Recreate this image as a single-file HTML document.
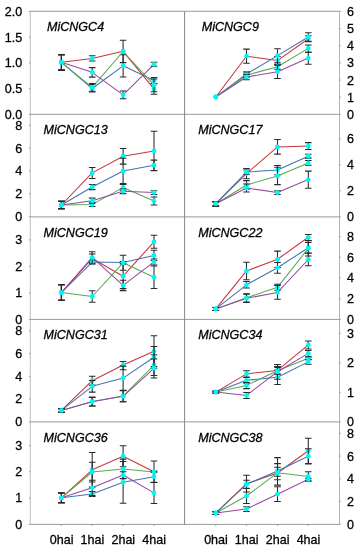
<!DOCTYPE html>
<html lang="en"><head><meta charset="utf-8"><title>MiCNGC expression</title>
<style>html,body{margin:0;padding:0;background:#fff}svg{display:block}text{font-family:"Liberation Sans",sans-serif;font-size:12.55px;fill:#000;stroke:#000;stroke-width:0.28px}.t{font-style:italic}</style></head><body>
<svg width="359" height="550" viewBox="0 0 359 550">
<rect width="359" height="550" fill="#fff"/>
<g stroke="#9a9a9a" stroke-width="1" fill="none">
<line x1="29.8" y1="11.3" x2="340.0" y2="11.3"/>
<line x1="29.8" y1="114.3" x2="340.0" y2="114.3"/>
<line x1="29.8" y1="216.9" x2="340.0" y2="216.9"/>
<line x1="29.8" y1="319.4" x2="340.0" y2="319.4"/>
<line x1="29.8" y1="421.9" x2="340.0" y2="421.9"/>
<line x1="29.8" y1="524.4" x2="340.0" y2="524.4"/>
<line x1="30.3" y1="11.3" x2="30.3" y2="524.4" stroke="#bdbdbd"/>
<line x1="339.5" y1="11.3" x2="339.5" y2="524.4" stroke="#b4b4b4"/>
<line x1="184.6" y1="11.3" x2="184.6" y2="524.9" stroke="#868686"/>
<line x1="28.900000000000002" y1="11.4" x2="30.3" y2="11.4"/>
<line x1="28.900000000000002" y1="37.2" x2="30.3" y2="37.2"/>
<line x1="28.900000000000002" y1="62.95" x2="30.3" y2="62.95"/>
<line x1="28.900000000000002" y1="88.7" x2="30.3" y2="88.7"/>
<line x1="28.900000000000002" y1="114.4" x2="30.3" y2="114.4"/>
<line x1="339.5" y1="11.4" x2="340.8" y2="11.4"/>
<line x1="339.5" y1="28.6" x2="340.8" y2="28.6"/>
<line x1="339.5" y1="45.75" x2="340.8" y2="45.75"/>
<line x1="339.5" y1="62.9" x2="340.8" y2="62.9"/>
<line x1="339.5" y1="80.1" x2="340.8" y2="80.1"/>
<line x1="339.5" y1="97.2" x2="340.8" y2="97.2"/>
<line x1="339.5" y1="114.4" x2="340.8" y2="114.4"/>
<line x1="28.900000000000002" y1="125.4" x2="30.3" y2="125.4"/>
<line x1="28.900000000000002" y1="148.2" x2="30.3" y2="148.2"/>
<line x1="28.900000000000002" y1="170.9" x2="30.3" y2="170.9"/>
<line x1="28.900000000000002" y1="193.7" x2="30.3" y2="193.7"/>
<line x1="28.900000000000002" y1="216.5" x2="30.3" y2="216.5"/>
<line x1="339.5" y1="138.7" x2="340.8" y2="138.7"/>
<line x1="339.5" y1="164.7" x2="340.8" y2="164.7"/>
<line x1="339.5" y1="190.7" x2="340.8" y2="190.7"/>
<line x1="339.5" y1="216.7" x2="340.8" y2="216.7"/>
<line x1="28.900000000000002" y1="239.9" x2="30.3" y2="239.9"/>
<line x1="28.900000000000002" y1="266.4" x2="30.3" y2="266.4"/>
<line x1="28.900000000000002" y1="292.9" x2="30.3" y2="292.9"/>
<line x1="28.900000000000002" y1="319.4" x2="30.3" y2="319.4"/>
<line x1="339.5" y1="236.6" x2="340.8" y2="236.6"/>
<line x1="339.5" y1="257.3" x2="340.8" y2="257.3"/>
<line x1="339.5" y1="278.0" x2="340.8" y2="278.0"/>
<line x1="339.5" y1="298.7" x2="340.8" y2="298.7"/>
<line x1="339.5" y1="319.4" x2="340.8" y2="319.4"/>
<line x1="28.900000000000002" y1="330.8" x2="30.3" y2="330.8"/>
<line x1="28.900000000000002" y1="353.55" x2="30.3" y2="353.55"/>
<line x1="28.900000000000002" y1="376.3" x2="30.3" y2="376.3"/>
<line x1="28.900000000000002" y1="399.05" x2="30.3" y2="399.05"/>
<line x1="28.900000000000002" y1="421.8" x2="30.3" y2="421.8"/>
<line x1="339.5" y1="333.4" x2="340.8" y2="333.4"/>
<line x1="339.5" y1="362.9" x2="340.8" y2="362.9"/>
<line x1="339.5" y1="392.4" x2="340.8" y2="392.4"/>
<line x1="339.5" y1="421.9" x2="340.8" y2="421.9"/>
<line x1="28.900000000000002" y1="445.6" x2="30.3" y2="445.6"/>
<line x1="28.900000000000002" y1="471.8" x2="30.3" y2="471.8"/>
<line x1="28.900000000000002" y1="498.0" x2="30.3" y2="498.0"/>
<line x1="28.900000000000002" y1="524.2" x2="30.3" y2="524.2"/>
<line x1="339.5" y1="433.4" x2="340.8" y2="433.4"/>
<line x1="339.5" y1="456.1" x2="340.8" y2="456.1"/>
<line x1="339.5" y1="478.8" x2="340.8" y2="478.8"/>
<line x1="339.5" y1="501.5" x2="340.8" y2="501.5"/>
<line x1="339.5" y1="524.2" x2="340.8" y2="524.2"/>
<line x1="61.4" y1="524.4" x2="61.4" y2="525.9"/>
<line x1="92.2" y1="524.4" x2="92.2" y2="525.9"/>
<line x1="123.1" y1="524.4" x2="123.1" y2="525.9"/>
<line x1="154.0" y1="524.4" x2="154.0" y2="525.9"/>
<line x1="215.8" y1="524.4" x2="215.8" y2="525.9"/>
<line x1="246.5" y1="524.4" x2="246.5" y2="525.9"/>
<line x1="277.5" y1="524.4" x2="277.5" y2="525.9"/>
<line x1="308.3" y1="524.4" x2="308.3" y2="525.9"/>
</g>
<text x="22.3" y="15.8" text-anchor="end">2.0</text>
<text x="22.3" y="41.6" text-anchor="end">1.5</text>
<text x="22.3" y="67.4" text-anchor="end">1.0</text>
<text x="22.3" y="93.1" text-anchor="end">0.5</text>
<text x="22.3" y="118.8" text-anchor="end">0.0</text>
<text class="t" x="75.6" y="30.9" text-anchor="middle">MiCNGC4</text>
<text x="346.9" y="15.8">6</text>
<text x="346.9" y="33.0">5</text>
<text x="346.9" y="50.1">4</text>
<text x="346.9" y="67.3">3</text>
<text x="346.9" y="84.5">2</text>
<text x="346.9" y="101.6">1</text>
<text x="346.9" y="118.8">0</text>
<text class="t" x="230.3" y="30.9" text-anchor="middle">MiCNGC9</text>
<text x="22.3" y="129.8" text-anchor="end">8</text>
<text x="22.3" y="152.6" text-anchor="end">6</text>
<text x="22.3" y="175.3" text-anchor="end">4</text>
<text x="22.3" y="198.1" text-anchor="end">2</text>
<text x="22.3" y="220.9" text-anchor="end">0</text>
<text class="t" x="75.6" y="133.9" text-anchor="middle">MiCNGC13</text>
<text x="346.9" y="143.1">6</text>
<text x="346.9" y="169.1">4</text>
<text x="346.9" y="195.1">2</text>
<text x="346.9" y="221.1">0</text>
<text class="t" x="230.3" y="133.9" text-anchor="middle">MiCNGC17</text>
<text x="22.3" y="244.3" text-anchor="end">3</text>
<text x="22.3" y="270.8" text-anchor="end">2</text>
<text x="22.3" y="297.3" text-anchor="end">1</text>
<text x="22.3" y="323.8" text-anchor="end">0</text>
<text class="t" x="75.6" y="236.5" text-anchor="middle">MiCNGC19</text>
<text x="346.9" y="241.0">8</text>
<text x="346.9" y="261.7">6</text>
<text x="346.9" y="282.4">4</text>
<text x="346.9" y="303.1">2</text>
<text x="346.9" y="323.8">0</text>
<text class="t" x="230.3" y="236.5" text-anchor="middle">MiCNGC22</text>
<text x="22.3" y="335.2" text-anchor="end">8</text>
<text x="22.3" y="357.9" text-anchor="end">6</text>
<text x="22.3" y="380.7" text-anchor="end">4</text>
<text x="22.3" y="403.4" text-anchor="end">2</text>
<text x="22.3" y="426.2" text-anchor="end">0</text>
<text class="t" x="75.6" y="339.0" text-anchor="middle">MiCNGC31</text>
<text x="346.9" y="337.8">3</text>
<text x="346.9" y="367.3">2</text>
<text x="346.9" y="396.8">1</text>
<text x="346.9" y="426.3">0</text>
<text class="t" x="230.3" y="339.0" text-anchor="middle">MiCNGC34</text>
<text x="22.3" y="450.0" text-anchor="end">3</text>
<text x="22.3" y="476.2" text-anchor="end">2</text>
<text x="22.3" y="502.4" text-anchor="end">1</text>
<text x="22.3" y="528.6" text-anchor="end">0</text>
<text class="t" x="75.6" y="441.5" text-anchor="middle">MiCNGC36</text>
<text x="346.9" y="437.8">8</text>
<text x="346.9" y="460.5">6</text>
<text x="346.9" y="483.2">4</text>
<text x="346.9" y="505.9">2</text>
<text x="346.9" y="528.6">0</text>
<text class="t" x="230.3" y="441.5" text-anchor="middle">MiCNGC38</text>
<text x="61.6" y="543.7" text-anchor="middle">0hai</text>
<text x="92.4" y="543.7" text-anchor="middle">1hai</text>
<text x="123.3" y="543.7" text-anchor="middle">2hai</text>
<text x="154.2" y="543.7" text-anchor="middle">4hai</text>
<text x="216.0" y="543.7" text-anchor="middle">0hai</text>
<text x="246.7" y="543.7" text-anchor="middle">1hai</text>
<text x="277.7" y="543.7" text-anchor="middle">2hai</text>
<text x="308.5" y="543.7" text-anchor="middle">4hai</text>
<g>
<polyline points="61.4,62.3 92.2,58.4 123.1,51.3 154.0,88.9" fill="none" stroke="#c8343e" stroke-width="1.05" stroke-linejoin="round"/>
<path d="M61.4 54.7V70.1M58.1 54.7h6.6M58.1 70.1h6.6M92.2 55.8V60.9M88.9 55.8h6.6M88.9 60.9h6.6M123.1 40.2V62.6M119.8 40.2h6.6M119.8 62.6h6.6M154.0 83.6V94.2M150.7 83.6h6.6M150.7 94.2h6.6" fill="none" stroke="#2a2a2a" stroke-width="1.05"/>
<circle cx="61.4" cy="62.3" r="2.4" fill="#00f6f6"/>
<circle cx="92.2" cy="58.4" r="2.4" fill="#00f6f6"/>
<circle cx="123.1" cy="51.3" r="2.4" fill="#00f6f6"/>
<circle cx="154.0" cy="88.9" r="2.4" fill="#00f6f6"/>
<polyline points="61.4,62.3 92.2,88.5 123.1,65.8 154.0,80.5" fill="none" stroke="#3f76ad" stroke-width="1.05" stroke-linejoin="round"/>
<path d="M61.4 54.7V70.1M58.1 54.7h6.6M58.1 70.1h6.6M92.2 84.5V92.0M88.9 84.5h6.6M88.9 92.0h6.6M123.1 54.8V76.9M119.8 54.8h6.6M119.8 76.9h6.6M154.0 77.6V83.5M150.7 77.6h6.6M150.7 83.5h6.6" fill="none" stroke="#2a2a2a" stroke-width="1.05"/>
<circle cx="61.4" cy="62.3" r="2.4" fill="#00f6f6"/>
<circle cx="92.2" cy="88.5" r="2.4" fill="#00f6f6"/>
<circle cx="123.1" cy="65.8" r="2.4" fill="#00f6f6"/>
<circle cx="154.0" cy="80.5" r="2.4" fill="#00f6f6"/>
<polyline points="61.4,62.3 92.2,87.3 123.1,51.5 154.0,84.9" fill="none" stroke="#52ab52" stroke-width="1.05" stroke-linejoin="round"/>
<path d="M61.4 54.7V70.1M58.1 54.7h6.6M58.1 70.1h6.6M92.2 83.4V91.2M88.9 83.4h6.6M88.9 91.2h6.6M154.0 79.0V91.8M150.7 79.0h6.6M150.7 91.8h6.6" fill="none" stroke="#2a2a2a" stroke-width="1.05"/>
<circle cx="61.4" cy="62.3" r="2.4" fill="#00f6f6"/>
<circle cx="92.2" cy="87.3" r="2.4" fill="#00f6f6"/>
<circle cx="123.1" cy="51.5" r="2.4" fill="#00f6f6"/>
<circle cx="154.0" cy="84.9" r="2.4" fill="#00f6f6"/>
<polyline points="61.4,62.3 92.2,72.3 123.1,94.9 154.0,64.3" fill="none" stroke="#9848a2" stroke-width="1.05" stroke-linejoin="round"/>
<path d="M61.4 54.7V70.1M58.1 54.7h6.6M58.1 70.1h6.6M92.2 67.6V77.1M88.9 67.6h6.6M88.9 77.1h6.6M123.1 90.9V98.8M119.8 90.9h6.6M119.8 98.8h6.6M154.0 62.3V66.3M150.7 62.3h6.6M150.7 66.3h6.6" fill="none" stroke="#2a2a2a" stroke-width="1.05"/>
<circle cx="61.4" cy="62.3" r="2.4" fill="#00f6f6"/>
<circle cx="92.2" cy="72.3" r="2.4" fill="#00f6f6"/>
<circle cx="123.1" cy="94.9" r="2.4" fill="#00f6f6"/>
<circle cx="154.0" cy="64.3" r="2.4" fill="#00f6f6"/>
</g>
<g>
<polyline points="215.8,97.0 246.5,56.2 277.5,60.6 308.3,38.8" fill="none" stroke="#c8343e" stroke-width="1.05" stroke-linejoin="round"/>
<path d="M246.5 49.1V63.2M243.2 49.1h6.6M243.2 63.2h6.6M277.5 56.5V64.6M274.2 56.5h6.6M274.2 64.6h6.6M308.3 35.8V41.8M305.0 35.8h6.6M305.0 41.8h6.6" fill="none" stroke="#2a2a2a" stroke-width="1.05"/>
<circle cx="215.8" cy="97.0" r="2.4" fill="#00f6f6"/>
<circle cx="246.5" cy="56.2" r="2.4" fill="#00f6f6"/>
<circle cx="277.5" cy="60.6" r="2.4" fill="#00f6f6"/>
<circle cx="308.3" cy="38.8" r="2.4" fill="#00f6f6"/>
<polyline points="215.8,97.0 246.5,74.0 277.5,55.6 308.3,37.0" fill="none" stroke="#3f76ad" stroke-width="1.05" stroke-linejoin="round"/>
<path d="M246.5 71.7V76.3M243.2 71.7h6.6M243.2 76.3h6.6M277.5 48.7V62.8M274.2 48.7h6.6M274.2 62.8h6.6M308.3 32.8V41.2M305.0 32.8h6.6M305.0 41.2h6.6" fill="none" stroke="#2a2a2a" stroke-width="1.05"/>
<circle cx="215.8" cy="97.0" r="2.4" fill="#00f6f6"/>
<circle cx="246.5" cy="74.0" r="2.4" fill="#00f6f6"/>
<circle cx="277.5" cy="55.6" r="2.4" fill="#00f6f6"/>
<circle cx="308.3" cy="37.0" r="2.4" fill="#00f6f6"/>
<polyline points="215.8,97.0 246.5,75.2 277.5,66.7 308.3,48.4" fill="none" stroke="#52ab52" stroke-width="1.05" stroke-linejoin="round"/>
<path d="M246.5 73.0V77.5M243.2 73.0h6.6M243.2 77.5h6.6M277.5 64.2V69.2M274.2 64.2h6.6M274.2 69.2h6.6M308.3 44.9V52.2M305.0 44.9h6.6M305.0 52.2h6.6" fill="none" stroke="#2a2a2a" stroke-width="1.05"/>
<circle cx="215.8" cy="97.0" r="2.4" fill="#00f6f6"/>
<circle cx="246.5" cy="75.2" r="2.4" fill="#00f6f6"/>
<circle cx="277.5" cy="66.7" r="2.4" fill="#00f6f6"/>
<circle cx="308.3" cy="48.4" r="2.4" fill="#00f6f6"/>
<polyline points="215.8,97.0 246.5,77.0 277.5,71.8 308.3,58.1" fill="none" stroke="#9848a2" stroke-width="1.05" stroke-linejoin="round"/>
<path d="M246.5 74.5V79.7M243.2 74.5h6.6M243.2 79.7h6.6M277.5 65.3V78.4M274.2 65.3h6.6M274.2 78.4h6.6M308.3 52.2V64.2M305.0 52.2h6.6M305.0 64.2h6.6" fill="none" stroke="#2a2a2a" stroke-width="1.05"/>
<circle cx="215.8" cy="97.0" r="2.4" fill="#00f6f6"/>
<circle cx="246.5" cy="77.0" r="2.4" fill="#00f6f6"/>
<circle cx="277.5" cy="71.8" r="2.4" fill="#00f6f6"/>
<circle cx="308.3" cy="58.1" r="2.4" fill="#00f6f6"/>
</g>
<g>
<polyline points="61.4,205.0 92.2,172.9 123.1,156.2 154.0,150.9" fill="none" stroke="#c8343e" stroke-width="1.05" stroke-linejoin="round"/>
<path d="M61.4 201.3V208.7M58.1 201.3h6.6M58.1 208.7h6.6M92.2 167.5V178.4M88.9 167.5h6.6M88.9 178.4h6.6M123.1 148.4V164.1M119.8 148.4h6.6M119.8 164.1h6.6M154.0 131.3V170.6M150.7 131.3h6.6M150.7 170.6h6.6" fill="none" stroke="#2a2a2a" stroke-width="1.05"/>
<circle cx="61.4" cy="205.0" r="2.4" fill="#00f6f6"/>
<circle cx="92.2" cy="172.9" r="2.4" fill="#00f6f6"/>
<circle cx="123.1" cy="156.2" r="2.4" fill="#00f6f6"/>
<circle cx="154.0" cy="150.9" r="2.4" fill="#00f6f6"/>
<polyline points="61.4,205.0 92.2,187.0 123.1,171.0 154.0,165.2" fill="none" stroke="#3f76ad" stroke-width="1.05" stroke-linejoin="round"/>
<path d="M61.4 201.3V208.7M58.1 201.3h6.6M58.1 208.7h6.6M92.2 184.5V189.6M88.9 184.5h6.6M88.9 189.6h6.6M123.1 158.3V183.6M119.8 158.3h6.6M119.8 183.6h6.6M154.0 160.1V170.5M150.7 160.1h6.6M150.7 170.5h6.6" fill="none" stroke="#2a2a2a" stroke-width="1.05"/>
<circle cx="61.4" cy="205.0" r="2.4" fill="#00f6f6"/>
<circle cx="92.2" cy="187.0" r="2.4" fill="#00f6f6"/>
<circle cx="123.1" cy="171.0" r="2.4" fill="#00f6f6"/>
<circle cx="154.0" cy="165.2" r="2.4" fill="#00f6f6"/>
<polyline points="61.4,205.0 92.2,204.4 123.1,187.6 154.0,200.9" fill="none" stroke="#52ab52" stroke-width="1.05" stroke-linejoin="round"/>
<path d="M61.4 201.3V208.7M58.1 201.3h6.6M58.1 208.7h6.6M92.2 202.3V206.5M88.9 202.3h6.6M88.9 206.5h6.6M123.1 184.4V190.7M119.8 184.4h6.6M119.8 190.7h6.6M154.0 197.0V205.0M150.7 197.0h6.6M150.7 205.0h6.6" fill="none" stroke="#2a2a2a" stroke-width="1.05"/>
<circle cx="61.4" cy="205.0" r="2.4" fill="#00f6f6"/>
<circle cx="92.2" cy="204.4" r="2.4" fill="#00f6f6"/>
<circle cx="123.1" cy="187.6" r="2.4" fill="#00f6f6"/>
<circle cx="154.0" cy="200.9" r="2.4" fill="#00f6f6"/>
<polyline points="61.4,205.0 92.2,200.7 123.1,191.3 154.0,192.6" fill="none" stroke="#9848a2" stroke-width="1.05" stroke-linejoin="round"/>
<path d="M61.4 201.3V208.7M58.1 201.3h6.6M58.1 208.7h6.6M92.2 198.1V203.3M88.9 198.1h6.6M88.9 203.3h6.6M123.1 189.0V193.6M119.8 189.0h6.6M119.8 193.6h6.6M154.0 190.7V194.5M150.7 190.7h6.6M150.7 194.5h6.6" fill="none" stroke="#2a2a2a" stroke-width="1.05"/>
<circle cx="61.4" cy="205.0" r="2.4" fill="#00f6f6"/>
<circle cx="92.2" cy="200.7" r="2.4" fill="#00f6f6"/>
<circle cx="123.1" cy="191.3" r="2.4" fill="#00f6f6"/>
<circle cx="154.0" cy="192.6" r="2.4" fill="#00f6f6"/>
</g>
<g>
<polyline points="215.8,203.7 246.5,173.6 277.5,146.9 308.3,146.0" fill="none" stroke="#c8343e" stroke-width="1.05" stroke-linejoin="round"/>
<path d="M215.8 201.6V205.9M212.5 201.6h6.6M212.5 205.9h6.6M246.5 168.5V178.7M243.2 168.5h6.6M243.2 178.7h6.6M277.5 139.5V154.1M274.2 139.5h6.6M274.2 154.1h6.6M308.3 142.6V149.4M305.0 142.6h6.6M305.0 149.4h6.6" fill="none" stroke="#2a2a2a" stroke-width="1.05"/>
<circle cx="215.8" cy="203.7" r="2.4" fill="#00f6f6"/>
<circle cx="246.5" cy="173.6" r="2.4" fill="#00f6f6"/>
<circle cx="277.5" cy="146.9" r="2.4" fill="#00f6f6"/>
<circle cx="308.3" cy="146.0" r="2.4" fill="#00f6f6"/>
<polyline points="215.8,203.7 246.5,172.0 277.5,170.1 308.3,156.2" fill="none" stroke="#3f76ad" stroke-width="1.05" stroke-linejoin="round"/>
<path d="M215.8 201.6V205.9M212.5 201.6h6.6M212.5 205.9h6.6M246.5 170.0V174.3M243.2 170.0h6.6M243.2 174.3h6.6M277.5 165.5V174.7M274.2 165.5h6.6M274.2 174.7h6.6M308.3 154.3V158.1M305.0 154.3h6.6M305.0 158.1h6.6" fill="none" stroke="#2a2a2a" stroke-width="1.05"/>
<circle cx="215.8" cy="203.7" r="2.4" fill="#00f6f6"/>
<circle cx="246.5" cy="172.0" r="2.4" fill="#00f6f6"/>
<circle cx="277.5" cy="170.1" r="2.4" fill="#00f6f6"/>
<circle cx="308.3" cy="156.2" r="2.4" fill="#00f6f6"/>
<polyline points="215.8,203.7 246.5,185.0 277.5,175.9 308.3,162.9" fill="none" stroke="#52ab52" stroke-width="1.05" stroke-linejoin="round"/>
<path d="M215.8 201.6V205.9M212.5 201.6h6.6M212.5 205.9h6.6M246.5 180.6V189.3M243.2 180.6h6.6M243.2 189.3h6.6M277.5 167.3V184.6M274.2 167.3h6.6M274.2 184.6h6.6M308.3 160.5V165.2M305.0 160.5h6.6M305.0 165.2h6.6" fill="none" stroke="#2a2a2a" stroke-width="1.05"/>
<circle cx="215.8" cy="203.7" r="2.4" fill="#00f6f6"/>
<circle cx="246.5" cy="185.0" r="2.4" fill="#00f6f6"/>
<circle cx="277.5" cy="175.9" r="2.4" fill="#00f6f6"/>
<circle cx="308.3" cy="162.9" r="2.4" fill="#00f6f6"/>
<polyline points="215.8,203.7 246.5,188.0 277.5,192.6 308.3,179.6" fill="none" stroke="#9848a2" stroke-width="1.05" stroke-linejoin="round"/>
<path d="M215.8 201.6V205.9M212.5 201.6h6.6M212.5 205.9h6.6M246.5 184.0V191.9M243.2 184.0h6.6M243.2 191.9h6.6M277.5 190.7V194.4M274.2 190.7h6.6M274.2 194.4h6.6M308.3 171.1V188.2M305.0 171.1h6.6M305.0 188.2h6.6" fill="none" stroke="#2a2a2a" stroke-width="1.05"/>
<circle cx="215.8" cy="203.7" r="2.4" fill="#00f6f6"/>
<circle cx="246.5" cy="188.0" r="2.4" fill="#00f6f6"/>
<circle cx="277.5" cy="192.6" r="2.4" fill="#00f6f6"/>
<circle cx="308.3" cy="179.6" r="2.4" fill="#00f6f6"/>
</g>
<g>
<polyline points="61.4,292.6 92.2,258.5 123.1,276.2 154.0,241.8" fill="none" stroke="#c8343e" stroke-width="1.05" stroke-linejoin="round"/>
<path d="M61.4 284.8V300.3M58.1 284.8h6.6M58.1 300.3h6.6M92.2 254.0V262.5M88.9 254.0h6.6M88.9 262.5h6.6M123.1 263.2V288.6M119.8 263.2h6.6M119.8 288.6h6.6M154.0 235.3V248.3M150.7 235.3h6.6M150.7 248.3h6.6" fill="none" stroke="#2a2a2a" stroke-width="1.05"/>
<circle cx="61.4" cy="292.6" r="2.4" fill="#00f6f6"/>
<circle cx="92.2" cy="258.5" r="2.4" fill="#00f6f6"/>
<circle cx="123.1" cy="276.2" r="2.4" fill="#00f6f6"/>
<circle cx="154.0" cy="241.8" r="2.4" fill="#00f6f6"/>
<polyline points="61.4,292.6 92.2,262.1 123.1,262.6 154.0,255.4" fill="none" stroke="#3f76ad" stroke-width="1.05" stroke-linejoin="round"/>
<path d="M61.4 284.8V300.3M58.1 284.8h6.6M58.1 300.3h6.6M92.2 260.5V263.7M88.9 260.5h6.6M88.9 263.7h6.6M123.1 255.2V270.2M119.8 255.2h6.6M119.8 270.2h6.6M154.0 250.3V260.5M150.7 250.3h6.6M150.7 260.5h6.6" fill="none" stroke="#2a2a2a" stroke-width="1.05"/>
<circle cx="61.4" cy="292.6" r="2.4" fill="#00f6f6"/>
<circle cx="92.2" cy="262.1" r="2.4" fill="#00f6f6"/>
<circle cx="123.1" cy="262.6" r="2.4" fill="#00f6f6"/>
<circle cx="154.0" cy="255.4" r="2.4" fill="#00f6f6"/>
<polyline points="61.4,292.6 92.2,296.5 123.1,262.8 154.0,277.3" fill="none" stroke="#52ab52" stroke-width="1.05" stroke-linejoin="round"/>
<path d="M61.4 284.8V300.3M58.1 284.8h6.6M58.1 300.3h6.6M92.2 290.8V302.3M88.9 290.8h6.6M88.9 302.3h6.6M123.1 261.5V264.0M119.8 261.5h6.6M119.8 264.0h6.6M154.0 266.0V288.5M150.7 266.0h6.6M150.7 288.5h6.6" fill="none" stroke="#2a2a2a" stroke-width="1.05"/>
<circle cx="61.4" cy="292.6" r="2.4" fill="#00f6f6"/>
<circle cx="92.2" cy="296.5" r="2.4" fill="#00f6f6"/>
<circle cx="123.1" cy="262.8" r="2.4" fill="#00f6f6"/>
<circle cx="154.0" cy="277.3" r="2.4" fill="#00f6f6"/>
<polyline points="61.4,292.6 92.2,257.3 123.1,285.4 154.0,261.9" fill="none" stroke="#9848a2" stroke-width="1.05" stroke-linejoin="round"/>
<path d="M61.4 284.8V300.3M58.1 284.8h6.6M58.1 300.3h6.6M92.2 251.7V264.0M88.9 251.7h6.6M88.9 264.0h6.6M123.1 280.3V290.6M119.8 280.3h6.6M119.8 290.6h6.6M154.0 258.9V264.9M150.7 258.9h6.6M150.7 264.9h6.6" fill="none" stroke="#2a2a2a" stroke-width="1.05"/>
<circle cx="61.4" cy="292.6" r="2.4" fill="#00f6f6"/>
<circle cx="92.2" cy="257.3" r="2.4" fill="#00f6f6"/>
<circle cx="123.1" cy="285.4" r="2.4" fill="#00f6f6"/>
<circle cx="154.0" cy="261.9" r="2.4" fill="#00f6f6"/>
</g>
<g>
<polyline points="215.8,308.9 246.5,270.9 277.5,259.3 308.3,237.3" fill="none" stroke="#c8343e" stroke-width="1.05" stroke-linejoin="round"/>
<path d="M215.8 307.4V310.4M212.5 307.4h6.6M212.5 310.4h6.6M246.5 262.2V279.7M243.2 262.2h6.6M243.2 279.7h6.6M277.5 251.1V267.5M274.2 251.1h6.6M274.2 267.5h6.6M308.3 234.5V240.4M305.0 234.5h6.6M305.0 240.4h6.6" fill="none" stroke="#2a2a2a" stroke-width="1.05"/>
<circle cx="215.8" cy="308.9" r="2.4" fill="#00f6f6"/>
<circle cx="246.5" cy="270.9" r="2.4" fill="#00f6f6"/>
<circle cx="277.5" cy="259.3" r="2.4" fill="#00f6f6"/>
<circle cx="308.3" cy="237.3" r="2.4" fill="#00f6f6"/>
<polyline points="215.8,308.9 246.5,284.8 277.5,267.8 308.3,247.7" fill="none" stroke="#3f76ad" stroke-width="1.05" stroke-linejoin="round"/>
<path d="M215.8 307.4V310.4M212.5 307.4h6.6M212.5 310.4h6.6M246.5 281.4V288.0M243.2 281.4h6.6M243.2 288.0h6.6M277.5 262.4V273.3M274.2 262.4h6.6M274.2 273.3h6.6M308.3 242.5V252.9M305.0 242.5h6.6M305.0 252.9h6.6" fill="none" stroke="#2a2a2a" stroke-width="1.05"/>
<circle cx="215.8" cy="308.9" r="2.4" fill="#00f6f6"/>
<circle cx="246.5" cy="284.8" r="2.4" fill="#00f6f6"/>
<circle cx="277.5" cy="267.8" r="2.4" fill="#00f6f6"/>
<circle cx="308.3" cy="247.7" r="2.4" fill="#00f6f6"/>
<polyline points="215.8,308.9 246.5,297.8 277.5,287.3 308.3,248.3" fill="none" stroke="#52ab52" stroke-width="1.05" stroke-linejoin="round"/>
<path d="M215.8 307.4V310.4M212.5 307.4h6.6M212.5 310.4h6.6M246.5 293.7V302.0M243.2 293.7h6.6M243.2 302.0h6.6M277.5 284.2V290.3M274.2 284.2h6.6M274.2 290.3h6.6M308.3 240.6V256.0M305.0 240.6h6.6M305.0 256.0h6.6" fill="none" stroke="#2a2a2a" stroke-width="1.05"/>
<circle cx="215.8" cy="308.9" r="2.4" fill="#00f6f6"/>
<circle cx="246.5" cy="297.8" r="2.4" fill="#00f6f6"/>
<circle cx="277.5" cy="287.3" r="2.4" fill="#00f6f6"/>
<circle cx="308.3" cy="248.3" r="2.4" fill="#00f6f6"/>
<polyline points="215.8,308.9 246.5,298.3 277.5,292.4 308.3,259.5" fill="none" stroke="#9848a2" stroke-width="1.05" stroke-linejoin="round"/>
<path d="M215.8 307.4V310.4M212.5 307.4h6.6M212.5 310.4h6.6M246.5 294.3V302.4M243.2 294.3h6.6M243.2 302.4h6.6M277.5 285.4V299.3M274.2 285.4h6.6M274.2 299.3h6.6M308.3 253.3V265.7M305.0 253.3h6.6M305.0 265.7h6.6" fill="none" stroke="#2a2a2a" stroke-width="1.05"/>
<circle cx="215.8" cy="308.9" r="2.4" fill="#00f6f6"/>
<circle cx="246.5" cy="298.3" r="2.4" fill="#00f6f6"/>
<circle cx="277.5" cy="292.4" r="2.4" fill="#00f6f6"/>
<circle cx="308.3" cy="259.5" r="2.4" fill="#00f6f6"/>
</g>
<g>
<polyline points="61.4,410.4 92.2,380.7 123.1,365.0 154.0,351.2" fill="none" stroke="#c8343e" stroke-width="1.05" stroke-linejoin="round"/>
<path d="M61.4 408.6V412.3M58.1 408.6h6.6M58.1 412.3h6.6M92.2 376.3V385.1M88.9 376.3h6.6M88.9 385.1h6.6M123.1 361.5V369.8M119.8 361.5h6.6M119.8 369.8h6.6M154.0 335.8V366.6M150.7 335.8h6.6M150.7 366.6h6.6" fill="none" stroke="#2a2a2a" stroke-width="1.05"/>
<circle cx="61.4" cy="410.4" r="2.4" fill="#00f6f6"/>
<circle cx="92.2" cy="380.7" r="2.4" fill="#00f6f6"/>
<circle cx="123.1" cy="365.0" r="2.4" fill="#00f6f6"/>
<circle cx="154.0" cy="351.2" r="2.4" fill="#00f6f6"/>
<polyline points="61.4,410.4 92.2,386.3 123.1,378.1 154.0,357.3" fill="none" stroke="#3f76ad" stroke-width="1.05" stroke-linejoin="round"/>
<path d="M61.4 408.6V412.3M58.1 408.6h6.6M58.1 412.3h6.6M92.2 380.5V392.1M88.9 380.5h6.6M88.9 392.1h6.6M123.1 366.1V390.3M119.8 366.1h6.6M119.8 390.3h6.6M154.0 346.4V368.2M150.7 346.4h6.6M150.7 368.2h6.6" fill="none" stroke="#2a2a2a" stroke-width="1.05"/>
<circle cx="61.4" cy="410.4" r="2.4" fill="#00f6f6"/>
<circle cx="92.2" cy="386.3" r="2.4" fill="#00f6f6"/>
<circle cx="123.1" cy="378.1" r="2.4" fill="#00f6f6"/>
<circle cx="154.0" cy="357.3" r="2.4" fill="#00f6f6"/>
<polyline points="61.4,410.4 92.2,401.5 123.1,396.0 154.0,365.1" fill="none" stroke="#52ab52" stroke-width="1.05" stroke-linejoin="round"/>
<path d="M61.4 408.6V412.3M58.1 408.6h6.6M58.1 412.3h6.6M92.2 397.1V406.0M88.9 397.1h6.6M88.9 406.0h6.6M123.1 390.5V401.7M119.8 390.5h6.6M119.8 401.7h6.6M154.0 354.7V375.5M150.7 354.7h6.6M150.7 375.5h6.6" fill="none" stroke="#2a2a2a" stroke-width="1.05"/>
<circle cx="61.4" cy="410.4" r="2.4" fill="#00f6f6"/>
<circle cx="92.2" cy="401.5" r="2.4" fill="#00f6f6"/>
<circle cx="123.1" cy="396.0" r="2.4" fill="#00f6f6"/>
<circle cx="154.0" cy="365.1" r="2.4" fill="#00f6f6"/>
<polyline points="61.4,410.4 92.2,401.8 123.1,396.3 154.0,368.4" fill="none" stroke="#9848a2" stroke-width="1.05" stroke-linejoin="round"/>
<path d="M61.4 408.6V412.3M58.1 408.6h6.6M58.1 412.3h6.6M92.2 397.5V406.0M88.9 397.5h6.6M88.9 406.0h6.6M123.1 390.7V401.8M119.8 390.7h6.6M119.8 401.8h6.6M154.0 359.0V378.0M150.7 359.0h6.6M150.7 378.0h6.6" fill="none" stroke="#2a2a2a" stroke-width="1.05"/>
<circle cx="61.4" cy="410.4" r="2.4" fill="#00f6f6"/>
<circle cx="92.2" cy="401.8" r="2.4" fill="#00f6f6"/>
<circle cx="123.1" cy="396.3" r="2.4" fill="#00f6f6"/>
<circle cx="154.0" cy="368.4" r="2.4" fill="#00f6f6"/>
</g>
<g>
<polyline points="215.8,392.1 246.5,373.9 277.5,370.4 308.3,344.8" fill="none" stroke="#c8343e" stroke-width="1.05" stroke-linejoin="round"/>
<path d="M215.8 391.2V393.0M212.5 391.2h6.6M212.5 393.0h6.6M246.5 370.8V376.9M243.2 370.8h6.6M243.2 376.9h6.6M277.5 366.5V374.3M274.2 366.5h6.6M274.2 374.3h6.6M308.3 340.9V349.0M305.0 340.9h6.6M305.0 349.0h6.6" fill="none" stroke="#2a2a2a" stroke-width="1.05"/>
<circle cx="215.8" cy="392.1" r="2.4" fill="#00f6f6"/>
<circle cx="246.5" cy="373.9" r="2.4" fill="#00f6f6"/>
<circle cx="277.5" cy="370.4" r="2.4" fill="#00f6f6"/>
<circle cx="308.3" cy="344.8" r="2.4" fill="#00f6f6"/>
<polyline points="215.8,392.1 246.5,380.3 277.5,377.3 308.3,361.9" fill="none" stroke="#3f76ad" stroke-width="1.05" stroke-linejoin="round"/>
<path d="M215.8 391.2V393.0M212.5 391.2h6.6M212.5 393.0h6.6M246.5 377.4V383.2M243.2 377.4h6.6M243.2 383.2h6.6M277.5 370.1V384.5M274.2 370.1h6.6M274.2 384.5h6.6M308.3 359.6V364.2M305.0 359.6h6.6M305.0 364.2h6.6" fill="none" stroke="#2a2a2a" stroke-width="1.05"/>
<circle cx="215.8" cy="392.1" r="2.4" fill="#00f6f6"/>
<circle cx="246.5" cy="380.3" r="2.4" fill="#00f6f6"/>
<circle cx="277.5" cy="377.3" r="2.4" fill="#00f6f6"/>
<circle cx="308.3" cy="361.9" r="2.4" fill="#00f6f6"/>
<polyline points="215.8,392.1 246.5,385.4 277.5,370.8 308.3,358.2" fill="none" stroke="#52ab52" stroke-width="1.05" stroke-linejoin="round"/>
<path d="M215.8 391.2V393.0M212.5 391.2h6.6M212.5 393.0h6.6M246.5 382.4V388.6M243.2 382.4h6.6M243.2 388.6h6.6M277.5 367.5V374.0M274.2 367.5h6.6M274.2 374.0h6.6M308.3 357.0V359.5M305.0 357.0h6.6M305.0 359.5h6.6" fill="none" stroke="#2a2a2a" stroke-width="1.05"/>
<circle cx="215.8" cy="392.1" r="2.4" fill="#00f6f6"/>
<circle cx="246.5" cy="385.4" r="2.4" fill="#00f6f6"/>
<circle cx="277.5" cy="370.8" r="2.4" fill="#00f6f6"/>
<circle cx="308.3" cy="358.2" r="2.4" fill="#00f6f6"/>
<polyline points="215.8,392.1 246.5,395.4 277.5,371.7 308.3,353.4" fill="none" stroke="#9848a2" stroke-width="1.05" stroke-linejoin="round"/>
<path d="M215.8 391.2V393.0M212.5 391.2h6.6M212.5 393.0h6.6M246.5 392.5V398.4M243.2 392.5h6.6M243.2 398.4h6.6M277.5 364.5V379.3M274.2 364.5h6.6M274.2 379.3h6.6M308.3 350.5V356.8M305.0 350.5h6.6M305.0 356.8h6.6" fill="none" stroke="#2a2a2a" stroke-width="1.05"/>
<circle cx="215.8" cy="392.1" r="2.4" fill="#00f6f6"/>
<circle cx="246.5" cy="395.4" r="2.4" fill="#00f6f6"/>
<circle cx="277.5" cy="371.7" r="2.4" fill="#00f6f6"/>
<circle cx="308.3" cy="353.4" r="2.4" fill="#00f6f6"/>
</g>
<g>
<polyline points="61.4,497.8 92.2,469.8 123.1,456.2 154.0,471.8" fill="none" stroke="#c8343e" stroke-width="1.05" stroke-linejoin="round"/>
<path d="M61.4 492.9V502.8M58.1 492.9h6.6M58.1 502.8h6.6M92.2 452.5V487.1M88.9 452.5h6.6M88.9 487.1h6.6M123.1 445.7V466.8M119.8 445.7h6.6M119.8 466.8h6.6M154.0 461.0V482.5M150.7 461.0h6.6M150.7 482.5h6.6" fill="none" stroke="#2a2a2a" stroke-width="1.05"/>
<circle cx="61.4" cy="497.8" r="2.4" fill="#00f6f6"/>
<circle cx="92.2" cy="469.8" r="2.4" fill="#00f6f6"/>
<circle cx="123.1" cy="456.2" r="2.4" fill="#00f6f6"/>
<circle cx="154.0" cy="471.8" r="2.4" fill="#00f6f6"/>
<polyline points="61.4,497.8 92.2,494.0 123.1,482.3 154.0,476.7" fill="none" stroke="#3f76ad" stroke-width="1.05" stroke-linejoin="round"/>
<path d="M61.4 492.9V502.8M58.1 492.9h6.6M58.1 502.8h6.6M92.2 491.5V496.5M88.9 491.5h6.6M88.9 496.5h6.6M123.1 461.4V503.3M119.8 461.4h6.6M119.8 503.3h6.6M154.0 471.2V482.2M150.7 471.2h6.6M150.7 482.2h6.6" fill="none" stroke="#2a2a2a" stroke-width="1.05"/>
<circle cx="61.4" cy="497.8" r="2.4" fill="#00f6f6"/>
<circle cx="92.2" cy="494.0" r="2.4" fill="#00f6f6"/>
<circle cx="123.1" cy="482.3" r="2.4" fill="#00f6f6"/>
<circle cx="154.0" cy="476.7" r="2.4" fill="#00f6f6"/>
<polyline points="61.4,497.8 92.2,472.0 123.1,469.0 154.0,471.9" fill="none" stroke="#52ab52" stroke-width="1.05" stroke-linejoin="round"/>
<path d="M61.4 492.9V502.8M58.1 492.9h6.6M58.1 502.8h6.6M92.2 462.2V482.0M88.9 462.2h6.6M88.9 482.0h6.6M123.1 459.1V478.8M119.8 459.1h6.6M119.8 478.8h6.6M154.0 471.3V472.5M150.7 471.3h6.6M150.7 472.5h6.6" fill="none" stroke="#2a2a2a" stroke-width="1.05"/>
<circle cx="61.4" cy="497.8" r="2.4" fill="#00f6f6"/>
<circle cx="92.2" cy="472.0" r="2.4" fill="#00f6f6"/>
<circle cx="123.1" cy="469.0" r="2.4" fill="#00f6f6"/>
<circle cx="154.0" cy="471.9" r="2.4" fill="#00f6f6"/>
<polyline points="61.4,497.8 92.2,487.8 123.1,475.0 154.0,492.9" fill="none" stroke="#9848a2" stroke-width="1.05" stroke-linejoin="round"/>
<path d="M61.4 492.9V502.8M58.1 492.9h6.6M58.1 502.8h6.6M92.2 480.2V495.6M88.9 480.2h6.6M88.9 495.6h6.6M123.1 471.7V478.4M119.8 471.7h6.6M119.8 478.4h6.6M154.0 482.4V503.4M150.7 482.4h6.6M150.7 503.4h6.6" fill="none" stroke="#2a2a2a" stroke-width="1.05"/>
<circle cx="61.4" cy="497.8" r="2.4" fill="#00f6f6"/>
<circle cx="92.2" cy="487.8" r="2.4" fill="#00f6f6"/>
<circle cx="123.1" cy="475.0" r="2.4" fill="#00f6f6"/>
<circle cx="154.0" cy="492.9" r="2.4" fill="#00f6f6"/>
</g>
<g>
<polyline points="215.8,513.0 246.5,483.7 277.5,473.0 308.3,450.7" fill="none" stroke="#c8343e" stroke-width="1.05" stroke-linejoin="round"/>
<path d="M215.8 511.6V514.4M212.5 511.6h6.6M212.5 514.4h6.6M246.5 475.3V492.0M243.2 475.3h6.6M243.2 492.0h6.6M277.5 463.6V479.7M274.2 463.6h6.6M274.2 479.7h6.6M308.3 438.2V463.4M305.0 438.2h6.6M305.0 463.4h6.6" fill="none" stroke="#2a2a2a" stroke-width="1.05"/>
<circle cx="215.8" cy="513.0" r="2.4" fill="#00f6f6"/>
<circle cx="246.5" cy="483.7" r="2.4" fill="#00f6f6"/>
<circle cx="277.5" cy="473.0" r="2.4" fill="#00f6f6"/>
<circle cx="308.3" cy="450.7" r="2.4" fill="#00f6f6"/>
<polyline points="215.8,513.0 246.5,484.3 277.5,471.0 308.3,456.2" fill="none" stroke="#3f76ad" stroke-width="1.05" stroke-linejoin="round"/>
<path d="M215.8 511.6V514.4M212.5 511.6h6.6M212.5 514.4h6.6M246.5 480.3V488.2M243.2 480.3h6.6M243.2 488.2h6.6M277.5 457.6V485.1M274.2 457.6h6.6M274.2 485.1h6.6M308.3 448.8V464.0M305.0 448.8h6.6M305.0 464.0h6.6" fill="none" stroke="#2a2a2a" stroke-width="1.05"/>
<circle cx="215.8" cy="513.0" r="2.4" fill="#00f6f6"/>
<circle cx="246.5" cy="484.3" r="2.4" fill="#00f6f6"/>
<circle cx="277.5" cy="471.0" r="2.4" fill="#00f6f6"/>
<circle cx="308.3" cy="456.2" r="2.4" fill="#00f6f6"/>
<polyline points="215.8,513.0 246.5,496.0 277.5,472.8 308.3,476.4" fill="none" stroke="#52ab52" stroke-width="1.05" stroke-linejoin="round"/>
<path d="M215.8 511.6V514.4M212.5 511.6h6.6M212.5 514.4h6.6M246.5 488.5V503.5M243.2 488.5h6.6M243.2 503.5h6.6M277.5 467.2V476.2M274.2 467.2h6.6M274.2 476.2h6.6M308.3 471.7V481.2M305.0 471.7h6.6M305.0 481.2h6.6" fill="none" stroke="#2a2a2a" stroke-width="1.05"/>
<circle cx="215.8" cy="513.0" r="2.4" fill="#00f6f6"/>
<circle cx="246.5" cy="496.0" r="2.4" fill="#00f6f6"/>
<circle cx="277.5" cy="472.8" r="2.4" fill="#00f6f6"/>
<circle cx="308.3" cy="476.4" r="2.4" fill="#00f6f6"/>
<polyline points="215.8,513.0 246.5,509.0 277.5,494.2 308.3,479.3" fill="none" stroke="#9848a2" stroke-width="1.05" stroke-linejoin="round"/>
<path d="M215.8 511.6V514.4M212.5 511.6h6.6M212.5 514.4h6.6M246.5 506.7V511.4M243.2 506.7h6.6M243.2 511.4h6.6M277.5 486.7V501.5M274.2 486.7h6.6M274.2 501.5h6.6M308.3 478.3V480.3M305.0 478.3h6.6M305.0 480.3h6.6" fill="none" stroke="#2a2a2a" stroke-width="1.05"/>
<circle cx="215.8" cy="513.0" r="2.4" fill="#00f6f6"/>
<circle cx="246.5" cy="509.0" r="2.4" fill="#00f6f6"/>
<circle cx="277.5" cy="494.2" r="2.4" fill="#00f6f6"/>
<circle cx="308.3" cy="479.3" r="2.4" fill="#00f6f6"/>
</g>
</svg></body></html>
